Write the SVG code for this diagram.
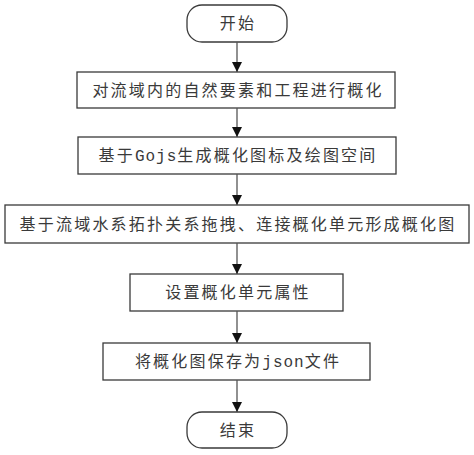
<svg xmlns="http://www.w3.org/2000/svg" width="474" height="455" viewBox="0 0 474 455">
<style>
.box{fill:#fff;stroke:#3a3a3a;stroke-width:1.3}
.t{font-family:"Noto Sans CJK SC","Noto Sans",sans-serif;font-size:16px;fill:#3a3a3a;text-anchor:middle;letter-spacing:2.2px}
.m{font-family:"Liberation Mono",monospace;letter-spacing:1px}
.c{stroke:#555;stroke-width:1.3;fill:none}
</style>
<defs>
<marker id="ah" viewBox="0 0 10 10" refX="10" refY="5" markerWidth="10" markerHeight="10" markerUnits="userSpaceOnUse" orient="auto">
<path d="M0,0 L10,5 L0,10 z" fill="#111"/>
</marker>
</defs>
<g id="start"><rect class="box" x="187" y="5" width="100" height="37" rx="15"/><text class="t" x="238" y="29">开始</text></g>
<g id="n1"><rect class="box" x="77" y="72" width="318" height="36"/><text class="t" x="238" y="96">对流域内的自然要素和工程进行概化</text></g>
<g id="n2"><rect class="box" x="78" y="137" width="318" height="37"/><text class="t" x="238" y="161">基于<tspan class="m">Gojs</tspan>生成概化图标及绘图空间</text></g>
<g id="n3"><rect class="box" x="5" y="205" width="464" height="38"/><text class="t" x="238" y="230">基于流域水系拓扑关系拖拽、连接概化单元形成概化图</text></g>
<g id="n4"><rect class="box" x="130" y="274" width="213" height="37"/><text class="t" x="238" y="298">设置概化单元属性</text></g>
<g id="n5"><rect class="box" x="103" y="343" width="267" height="37"/><text class="t" x="238" y="367">将概化图保存为<tspan class="m">json</tspan>文件</text></g>
<g id="end"><rect class="box" x="187" y="412" width="100" height="36" rx="15"/><text class="t" x="238" y="436">结束</text></g>
<g id="connectors">
<line class="c" x1="237" y1="42" x2="237" y2="72" marker-end="url(#ah)"/>
<line class="c" x1="237" y1="108" x2="237" y2="137" marker-end="url(#ah)"/>
<line class="c" x1="237" y1="174" x2="237" y2="205" marker-end="url(#ah)"/>
<line class="c" x1="237" y1="243" x2="237" y2="274" marker-end="url(#ah)"/>
<line class="c" x1="237" y1="311" x2="237" y2="343" marker-end="url(#ah)"/>
<line class="c" x1="237" y1="380" x2="237" y2="412" marker-end="url(#ah)"/>
</g>
</svg>
